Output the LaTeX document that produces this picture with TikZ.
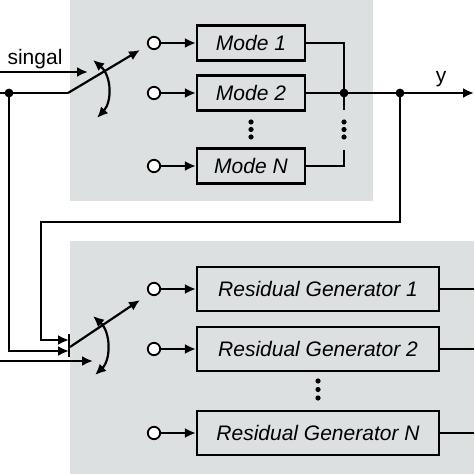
\documentclass[tikz,border=0pt]{standalone}
\usepackage{fontspec}
\setmainfont{Liberation Sans}
\usetikzlibrary{arrows.meta}
\definecolor{panel}{RGB}{221,224,225}

\begin{document}
\begin{tikzpicture}[x=0.5pt, y=-0.5pt, line width=1.1pt, font=\fontsize{10.5}{12}\selectfont,
    >={Latex[length=5.5pt,width=5pt]},
    box/.style={draw, fill=panel, inner sep=0pt, font=\fontsize{10.5}{12}\selectfont\itshape},
    port/.style={circle, draw, fill=white, line width=0.9pt, minimum size=6.2pt, inner sep=0pt},
    dot/.style={circle, fill, minimum size=4.4pt, inner sep=0pt},
    pt/.style={circle, fill, minimum size=2.6pt, inner sep=0pt}]
        \useasboundingbox (0,0) rectangle (474,474);
        \fill[panel] (70,0) rectangle (373,201);
        \fill[panel] (70,241) rectangle (474,474);
        % modes
        \node[box, minimum width=54pt, minimum height=17.5pt] (m1) at (251,43) {Mode 1};
        \node[box, minimum width=54pt, minimum height=17.5pt] (m2) at (251,93) {Mode 2};
        \node[box, minimum width=54pt, minimum height=17.5pt] (mn) at (251,166) {Mode N};
        \node[port] (p1) at (154,43) {};
        \node[port] (p2) at (154,93) {};
        \node[port] (pn) at (154,166) {};
        \draw[->] (p1) -- (m1);
        \draw[->] (p2) -- (m2);
        \draw[->] (pn) -- (mn);
        \coordinate (j) at (344,93);
        \coordinate (ja) at (344,110);
        \coordinate (jb) at (344,150);
        \coordinate (o) at (400,93);
        \coordinate (yend) at (474,93);
        \draw (m1) -| (j) -- (ja);
        \draw (mn) -| (jb);
        \draw[->] (m2) -- (yend);
        \node[dot] at (j) {};
        \node[dot] at (o) {};
        \node at (441,79) {y};
        \foreach \y in {122,129.5,137} {
            \node[pt] at (251,\y) {};
            \node[pt] at (344,\y) {};
        }
        % input and mode switch
        \coordinate (in) at (0,93);
        \coordinate (s) at (68,93);
        \coordinate (st) at (140,50);
        \coordinate (i) at (9,93);
        \node at (35,59) {singal};
        \draw[->] (0,72) -- (88,72);
        \draw (in) -- (s);
        \draw[->] (s) -- (st);
        \draw[<->] (93,60) .. controls (112,76) and (112,102) .. (97,118);
        \node[dot] at (i) {};
        % residual generators
        \node[box, minimum width=121pt, minimum height=22pt] (r1) at (318,289) {Residual Generator 1};
        \node[box, minimum width=121pt, minimum height=22pt] (r2) at (318,349) {Residual Generator 2};
        \node[box, minimum width=121pt, minimum height=22pt] (rn) at (318,433) {Residual Generator N};
        \node[port] (q1) at (154,289) {};
        \node[port] (q2) at (154,349) {};
        \node[port] (qn) at (154,433) {};
        \draw[->] (q1) -- (r1);
        \draw[->] (q2) -- (r2);
        \draw[->] (qn) -- (rn);
        \draw (r1) -- (474,289);
        \draw (r2) -- (474,349);
        \draw (rn) -- (474,433);
        \foreach \y in {381,389.5,398} \node[pt] at (318,\y) {};
        % residual switch
        \coordinate (b) at (70,347);
        \coordinate (bt) at (140,300);
        \draw (69,334) -- (69,357);
        \draw[->] (o) -- (400,222) -- (41,222) -- (41,340) -- (69,340);
        \draw[->] (i) -- (9,351) -- (69,351);
        \draw[->] (0,361) -- (93,361);
        \draw[->] (b) -- (bt);
        \draw[<->] (93,316) .. controls (111,332) and (111,360) .. (95,375);
\end{tikzpicture}
\end{document}
